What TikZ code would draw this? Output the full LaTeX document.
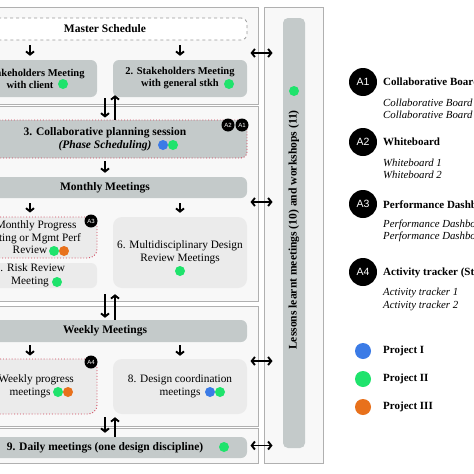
\documentclass[tikz,border=0pt]{standalone}
\usepackage{fontspec}
\setmainfont{Liberation Serif}
\newfontfamily\sansf{Liberation Sans}
\usetikzlibrary{arrows.meta,calc}
\definecolor{panelfill}{HTML}{F8F8F8}
\definecolor{panelline}{HTML}{B0B0B0}
\definecolor{darkbox}{HTML}{C4CACA}
\definecolor{lightbox}{HTML}{EBEBEB}
\definecolor{redline}{HTML}{D0455A}
\definecolor{dashgray}{HTML}{9A9A9A}
\definecolor{pblue}{HTML}{3B7BE6}
\definecolor{pgreen}{HTML}{1FE36C}
\definecolor{porange}{HTML}{E8711C}
\begin{document}
\begin{tikzpicture}[x=1pt,y=-1pt,
  panel/.style={draw=panelline, fill=panelfill, line width=1pt, inner sep=0pt},
  dbox/.style={fill=darkbox, rounded corners=6pt, inner sep=0pt, align=center,
    font=\fontsize{11.5}{13}\bfseries\selectfont},
  sbox/.style={dbox, font=\fontsize{10.5}{12}\bfseries\selectfont},
  lbox/.style={fill=lightbox, rounded corners=9pt, inner sep=0pt, align=center,
    font=\fontsize{11.3}{12.5}\selectfont},
  reddash/.style={draw=redline, dotted, line width=0.9pt},
  badge/.style={circle, fill=black, text=white, inner sep=0pt, minimum size=13pt,
    font=\sansf\fontsize{6}{6}\selectfont},
  bigbadge/.style={circle, fill=black, text=white, inner sep=0pt, minimum size=28pt,
    font=\sansf\fontsize{10.5}{11}\selectfont},
  pdot/.style={circle, inner sep=0pt, minimum size=10pt},
  ldot/.style={circle, inner sep=0pt, minimum size=16pt},
  ltitle/.style={anchor=west, inner sep=0pt, font=\fontsize{11}{13}\bfseries\selectfont},
  litem/.style={anchor=west, inner sep=0pt, align=left, font=\fontsize{10.8}{12.3}\itshape\selectfont},
  arr/.style={line width=1.9pt, -{Straight Barb[length=3.2pt,width=8pt]}},
  darr/.style={line width=1.9pt, {Straight Barb[length=3.2pt,width=8pt]}-{Straight Barb[length=3.2pt,width=8pt]}}
]
\useasboundingbox (0,0) rectangle (474,474);
\fill[white] (0,0) rectangle (474,474);

% panels
\node[panel, minimum width=298pt, minimum height=97pt] (pA) at (109,55.5) {};
\node[panel, minimum width=298pt, minimum height=195pt] (pB) at (109,203.5) {};
\node[panel, minimum width=298pt, minimum height=120pt] (pC) at (109,366) {};
\node[panel, minimum width=298pt, minimum height=35pt] (pD) at (109,445.5) {};
\node[panel, minimum width=59pt, minimum height=456pt] (lp) at (293.5,235) {};
\node[fill=darkbox, rounded corners=5pt, minimum width=22pt, minimum height=430pt, inner sep=0pt] (bar) at (294,233) {};
\node[rotate=90, inner sep=0pt, font=\fontsize{11.6}{13}\bfseries\selectfont] (lt) at (294,230) {Lessons learnt meetings (10) and workshops (11)};
\node[pdot, fill=pgreen] (dl) at (294,91) {};

% panel 1
\node[draw=dashgray, dashed, fill=white, rounded corners=6pt, line width=0.8pt,
  minimum width=284pt, minimum height=22pt, inner sep=0pt,
  font=\fontsize{11.5}{13}\bfseries\selectfont] (master) at (105,29) {Master Schedule};
\node[sbox, minimum width=134pt, minimum height=37pt] (b1) at (30,78.5) {1. Stakeholders Meeting\\with client};
\node[sbox, minimum width=134pt, minimum height=37pt] (b2) at (180,78.5) {2. Stakeholders Meeting\\with general stkh};
\node[pdot, fill=pgreen] (d1) at (63,84) {};
\node[pdot, fill=pgreen] (d2) at (229,84) {};

% panel 2
\node[dbox, reddash, minimum width=284pt, minimum height=38pt] (colab) at (105,139) {3. Collaborative planning session\\\textit{(Phase Scheduling)}};
\node[pdot, fill=pblue] (d3a) at (163,145) {};
\node[pdot, fill=pgreen] (d3b) at (173,145) {};
\node[badge] (a2s) at (228,125) {A2};
\node[badge] (a1s) at (242,125) {A1};
\node[dbox, minimum width=284pt, minimum height=21pt] (monthly) at (105,187.5) {Monthly Meetings};
\node[lbox, reddash, minimum width=134pt, minimum height=41pt] (b4) at (30,237.5) {4. Monthly Progress\\Meeting or Mgmt Perf\\Review};
\node[pdot, fill=pgreen] (d4a) at (54,251) {};
\node[pdot, fill=porange] (d4b) at (64,251) {};
\node[badge] (a3s) at (91,221) {A3};
\node[lbox, rounded corners=6pt, minimum width=134pt, minimum height=25pt] (b5) at (30,275.5) {5. Risk Review\\Meeting};
\node[pdot, fill=pgreen] (d5) at (57,282) {};
\node[lbox, minimum width=134pt, minimum height=71pt] (b6) at (180,252.5) {6. Multidisciplinary Design\\Review Meetings};
\node[pdot, fill=pgreen] (d6) at (180,271) {};

% panel 3
\node[dbox, minimum width=284pt, minimum height=22pt] (weekly) at (105,331) {Weekly Meetings};
\node[lbox, reddash, minimum width=134pt, minimum height=55pt] (b7) at (30,386.5) {7. Weekly progress\\meetings};
\node[pdot, fill=pgreen] (d7a) at (58,392) {};
\node[pdot, fill=porange] (d7b) at (68,392) {};
\node[badge] (a4s) at (91,362) {A4};
\node[lbox, minimum width=134pt, minimum height=55pt] (b8) at (180,386.5) {8. Design coordination\\meetings};
\node[pdot, fill=pblue] (d8a) at (210,392) {};
\node[pdot, fill=pgreen] (d8b) at (220,392) {};

% panel 4
\node[dbox, minimum width=284pt, minimum height=21pt] (daily) at (105,447.5) {9. Daily meetings (one design discipline)};
\node[pdot, fill=pgreen] (d9) at (224,447) {};

% arrows
\draw[arr, shorten <=5pt, shorten >=4pt] (master.south -| b1) -- (b1.north);
\draw[arr, shorten <=5pt, shorten >=4pt] (master.south -| b2) -- (b2.north);
\draw[arr, shorten <=1pt, shorten >=2pt] (b2.south -| colab) -- (colab.north);
\draw[arr, shorten <=0pt, shorten >=-2pt] ([xshift=10pt]colab.north) -- ([xshift=10pt]colab.north |- b2.south);
\draw[arr, shorten <=3pt, shorten >=4pt] (colab.south) -- (monthly.north);
\draw[arr, shorten <=5pt, shorten >=4pt] (monthly.south -| b4) -- (b4.north);
\draw[arr, shorten <=5pt, shorten >=4pt] (monthly.south -| b6) -- (b6.north);
\draw[arr, shorten <=6pt, shorten >=2pt] (b6.south -| weekly) -- (weekly.north);
\draw[arr, shorten <=0pt, shorten >=6pt] ([xshift=10pt]weekly.north) -- ([xshift=10pt]weekly.north |- b6.south);
\draw[arr, shorten <=3pt, shorten >=3pt] (weekly.south -| b7) -- (b7.north);
\draw[arr, shorten <=3pt, shorten >=3pt] (weekly.south -| b8) -- (b8.north);
\draw[arr, shorten <=3pt, shorten >=4pt] (b8.south -| daily) -- (daily.north);
\draw[arr, shorten <=0pt, shorten >=3pt] ([xshift=10pt]daily.north) -- ([xshift=10pt]daily.north |- b8.south);

\draw[darr] ([xshift=-8pt,yshift=2.5pt]pA.east) -- ([xshift=9pt,yshift=2.5pt]pA.east -| lp.west);
\draw[darr] ([xshift=-8pt,yshift=1.5pt]pB.east) -- ([xshift=9pt,yshift=1.5pt]pB.east -| lp.west);
\draw[darr] ([xshift=-8pt,yshift=5pt]pC.east) -- ([xshift=9pt,yshift=5pt]pC.east -| lp.west);
\draw[darr] ([xshift=-8pt]pD.east) -- ([xshift=9pt]pD.east -| lp.west);

% legend
\node[bigbadge] (A1) at (363,82) {A1};
\node[ltitle] (A1t) at (383,82) {Collaborative Board};
\node[litem] (A1i) at (383,109) {Collaborative Board 1\\Collaborative Board 2};
\node[bigbadge] (A2) at (363,142) {A2};
\node[ltitle] (A2t) at (383,142) {Whiteboard};
\node[litem] (A2i) at (383,169) {Whiteboard 1\\Whiteboard 2};
\node[bigbadge] (A3) at (363,204) {A3};
\node[ltitle] (A3t) at (383,205) {Performance Dashboard};
\node[litem] (A3i) at (383,231) {Performance Dashboard 1\\Performance Dashboard 2};
\node[bigbadge] (A4) at (363,272) {A4};
\node[ltitle] (A4t) at (383,273) {Activity tracker (Stickies)};
\node[litem] (A4i) at (383,299.5) {Activity tracker 1\\Activity tracker 2};
\node[ldot, fill=pblue] (P1) at (363,351) {};
\node[ltitle] (P1t) at (383,351) {Project I};
\node[ldot, fill=pgreen] (P2) at (363,379) {};
\node[ltitle] (P2t) at (383,379) {Project II};
\node[ldot, fill=porange] (P3) at (363,407) {};
\node[ltitle] (P3t) at (383,407) {Project III};
\end{tikzpicture}
\end{document}
